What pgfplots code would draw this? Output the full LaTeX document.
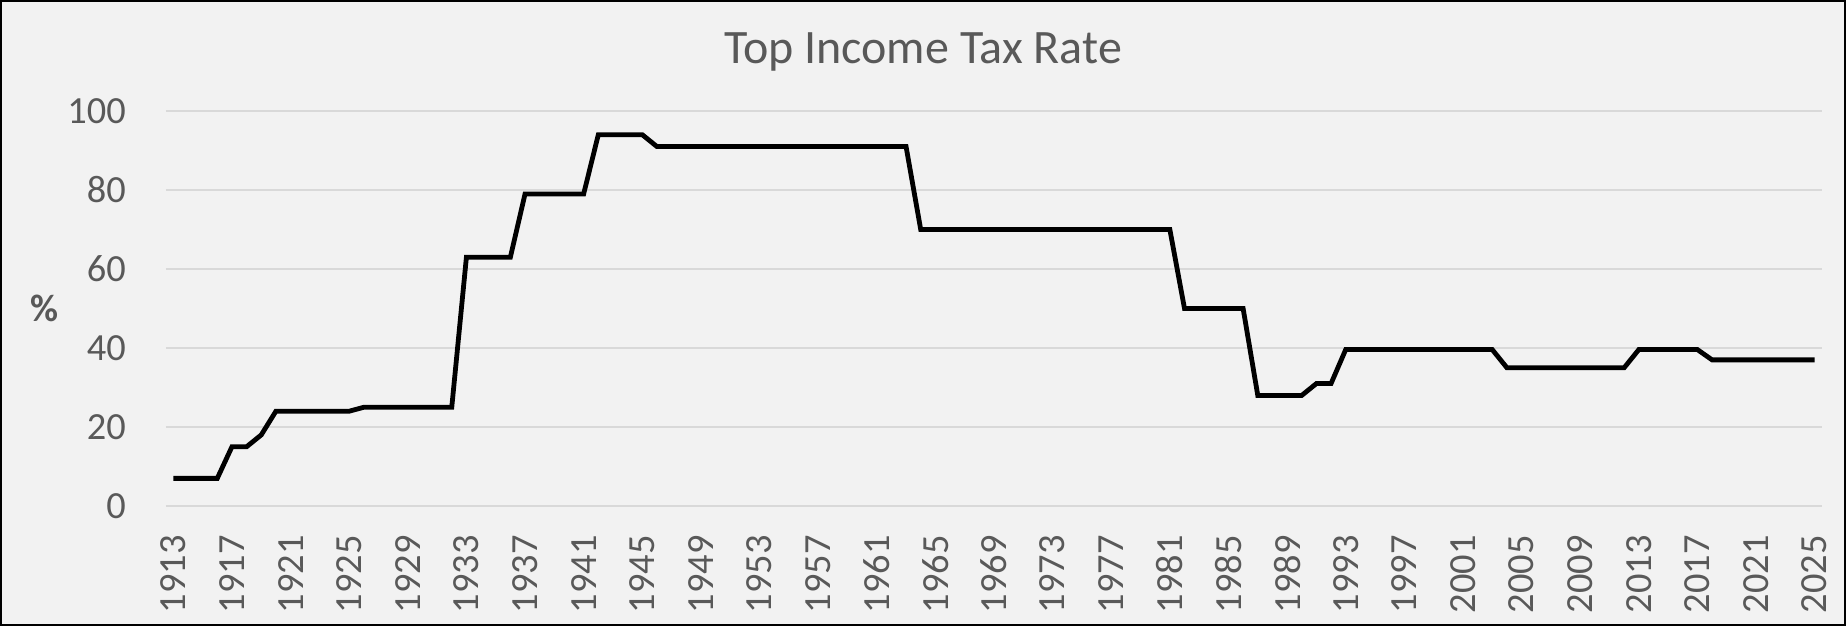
\documentclass[border=0pt]{standalone}
\usepackage{fontspec}
\setmainfont{Carlito}
\usepackage{pgfplots}
\pgfplotsset{compat=1.18}
\definecolor{bg}{HTML}{F2F2F2}
\definecolor{gridc}{HTML}{D9D9D9}
\definecolor{txt}{HTML}{595959}
\begin{document}
\begin{tikzpicture}
\path[use as bounding box] (0pt,0pt) rectangle (461.5pt,156.5pt);
\fill[bg] (0pt,0pt) rectangle (461.5pt,156.5pt);
\begin{axis}[
  at={(41.5pt,30pt)}, anchor=south west,
  width=414pt, height=98.75pt, scale only axis,
  xmin=1912.5, xmax=2025.5, ymin=0, ymax=100,
  axis line style={draw=none},
  major tick length=0pt,
  ymajorgrids, grid style={gridc, line width=0.4pt},
  ytick={0,20,40,60,80,100},
  xtick={1913,1917,1921,1925,1929,1933,1937,1941,1945,1949,1953,1957,1961,1965,1969,1973,1977,1981,1985,1989,1993,1997,2001,2005,2009,2013,2017,2021,2025},
  xticklabels={1913,1917,1921,1925,1929,1933,1937,1941,1945,1949,1953,1957,1961,1965,1969,1973,1977,1981,1985,1989,1993,1997,2001,2005,2009,2013,2017,2021,2025},
  xticklabel style={rotate=90, anchor=east, font=\fontsize{9.6}{11}\selectfont, text=txt},
  yticklabel style={font=\fontsize{9.6}{11}\selectfont, text=txt, /pgf/number format/assume math mode=true},
  xticklabel shift=3.8pt,
  yticklabel shift=6.5pt,
  ylabel={\%},
  every axis y label/.style={at={(rel axis cs:0,0.5)}, anchor=center, xshift=-30.3pt, font=\bfseries\fontsize{9.6}{11}\selectfont, text=txt},
  clip=false,
]
\addplot[black, line width=1.2pt, mark=none] coordinates {
(1913,7) (1914,7) (1915,7) (1916,7) (1917,15) (1918,15) (1919,18) (1920,24)
(1921,24) (1922,24) (1923,24) (1924,24) (1925,24) (1926,25) (1927,25) (1928,25)
(1929,25) (1930,25) (1931,25) (1932,25) (1933,63) (1934,63) (1935,63) (1936,63)
(1937,79) (1938,79) (1939,79) (1940,79) (1941,79) (1942,94) (1943,94) (1944,94)
(1945,94) (1946,91) (1947,91) (1948,91) (1949,91) (1950,91) (1951,91) (1952,91)
(1953,91) (1954,91) (1955,91) (1956,91) (1957,91) (1958,91) (1959,91) (1960,91)
(1961,91) (1962,91) (1963,91) (1964,70) (1965,70) (1966,70) (1967,70) (1968,70)
(1969,70) (1970,70) (1971,70) (1972,70) (1973,70) (1974,70) (1975,70) (1976,70)
(1977,70) (1978,70) (1979,70) (1980,70) (1981,70) (1982,50) (1983,50) (1984,50)
(1985,50) (1986,50) (1987,28) (1988,28) (1989,28) (1990,28) (1991,31) (1992,31)
(1993,39.6) (1994,39.6) (1995,39.6) (1996,39.6) (1997,39.6) (1998,39.6) (1999,39.6) (2000,39.6)
(2001,39.6) (2002,39.6) (2003,39.6) (2004,35) (2005,35) (2006,35) (2007,35) (2008,35)
(2009,35) (2010,35) (2011,35) (2012,35) (2013,39.6) (2014,39.6) (2015,39.6) (2016,39.6)
(2017,39.6) (2018,37) (2019,37) (2020,37) (2021,37) (2022,37) (2023,37) (2024,37)
(2025,37)
};
\end{axis}
\node[font=\fontsize{12}{14}\selectfont, text=txt] at (230.75pt,143.5pt) {Top Income Tax Rate};
\draw[black, line width=0.5pt] (0.25pt,0.25pt) rectangle (461.25pt,156.25pt);
\end{tikzpicture}
\end{document}
